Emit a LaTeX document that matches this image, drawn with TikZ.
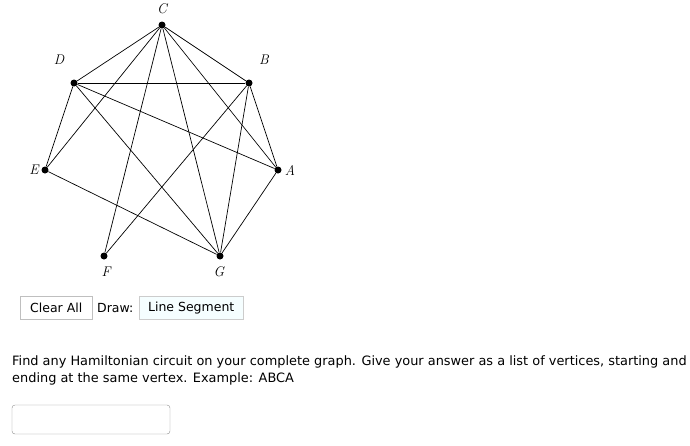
\documentclass[tikz,border=0pt]{standalone}
\usepackage{fontspec}
\setsansfont{DejaVu Sans}
\begin{document}
\begin{tikzpicture}[x=1pt,y=-1pt,
  vtx/.style={circle,fill=black,inner sep=0pt,minimum size=7pt},
  lbl/.style={font=\fontsize{14}{16}\selectfont\itshape},
  edge/.style={line width=0.7pt},
  btn/.style={draw=black!25,font=\sffamily\fontsize{12.5}{14}\selectfont,minimum height=23pt,inner xsep=2pt},
  txt/.style={font=\sffamily\fontsize{12.9}{15}\selectfont,anchor=west,inner sep=0pt}]
\useasboundingbox (0,0) rectangle (690,445);
\node[vtx] (C) at (162,25) {};
\node[vtx] (D) at (74,83) {};
\node[vtx] (B) at (249,83) {};
\node[vtx] (E) at (45,170) {};
\node[vtx] (A) at (278,170) {};
\node[vtx] (F) at (104,256) {};
\node[vtx] (G) at (220,256) {};
\node[lbl] (lC) at (162,9) {C};
\node[lbl] (lD) at (59,60) {D};
\node[lbl] (lB) at (264,60) {B};
\node[lbl] (lE) at (34,170) {E};
\node[lbl] (lA) at (290,170) {A};
\node[lbl] (lF) at (106,272) {F};
\node[lbl] (lG) at (219,272) {G};
\foreach \a/\b in {C/D,C/B,C/E,C/F,C/G,C/A,D/B,D/E,D/A,D/G,B/F,B/G,B/A,E/G,A/G}
  \draw[edge] (\a) -- (\b);
\node[btn,anchor=west,minimum width=72pt] (clr) at (20,308) {Clear All};
\node[txt,font=\sffamily\fontsize{12.5}{14}\selectfont] (draw) at (97,308) {Draw:};
\node[btn,anchor=west,minimum width=104pt,fill=blue!6!cyan!4,draw=black!20] (ls) at (139,308) {Line Segment};
\node[txt] (q1) at (12,362) {Find any Hamiltonian circuit on your complete graph. Give your answer as a list of vertices, starting and};
\node[txt] (q2) at (12,379) {ending at the same vertex. Example: ABCA};
\draw[black!45,rounded corners=3pt] (12,405) rectangle (170,434);
\end{tikzpicture}
\end{document}
